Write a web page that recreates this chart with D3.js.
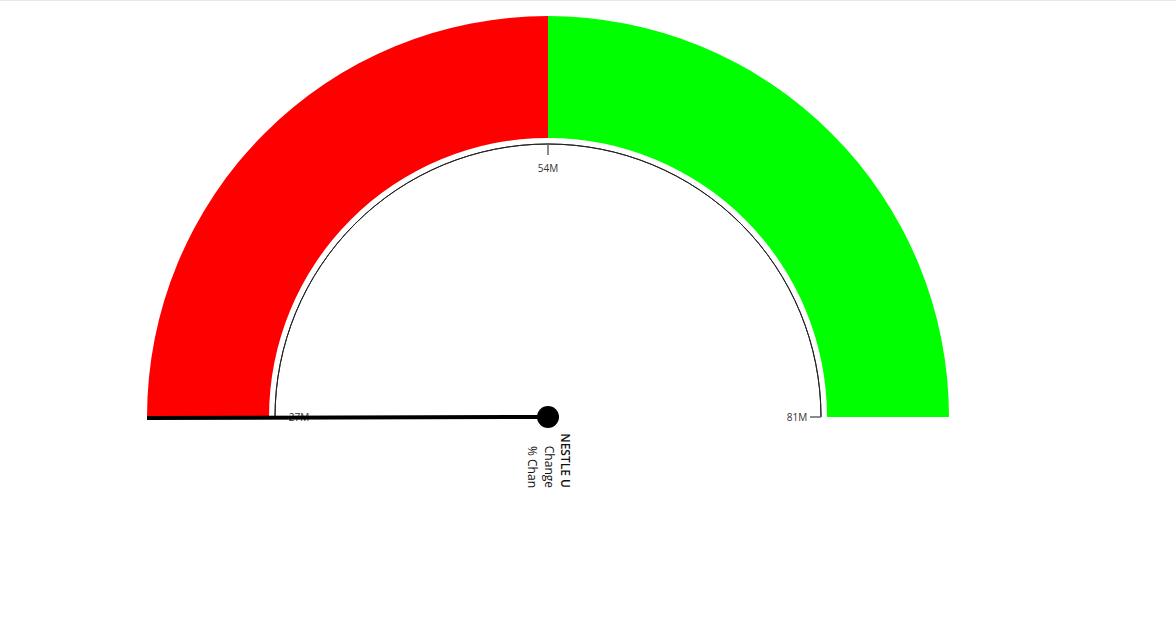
<!DOCTYPE html>
<html>
<head>
<meta charset="utf-8">
<script src="https://cdn.jsdelivr.net/npm/d3@7"></script>
<style>
  html, body { margin: 0; padding: 0; background: #fff; }
  body { border-top: 1px solid #e8e8e8; }
  svg { display: block; }
</style>
</head>
<body>
<script>
var width = 1176,
    height = 634;

var cx = 548, cy = 416; // gauge centre

var outerR = 401,
    innerR = 279,
    axisR = 273,
    labelR = 249;

// data
var bandStarts = [27, 54];
var bandEnds = [54, 81];
var bandColors = ["#ff0000", "#00ff00"];
var tickValues = [27, 54, 81];
var needleValue = 27;
var labelLines = ["NESTLE U", "Change", "% Chan"];

var angle = d3.scaleLinear()
    .domain([27, 81])
    .range([-Math.PI / 2, Math.PI / 2]);

var svg = d3.select("body").append("svg")
    .attr("width", width)
    .attr("height", height);

var g = svg.append("g")
    .attr("transform", "translate(" + cx + "," + cy + ")");

var arc = d3.arc()
    .innerRadius(innerR)
    .outerRadius(outerR);

// Bands
g.selectAll("path.band")
        .data(bandStarts)
    .enter().append("path")
        .attr("class", "band")
        .attr("d", function(d, i) {
            return arc({startAngle: angle(d), endAngle: angle(bandEnds[i])});
        })
        .attr("fill", function(d, i) { return bandColors[i]; });

// Axis arc
g.append("path")
    .attr("d", d3.arc()({innerRadius: axisR, outerRadius: axisR,
        startAngle: angle.range()[0], endAngle: angle.range()[1]}))
    .attr("fill", "none")
    .attr("stroke", "#222")
    .attr("stroke-width", 1);

// Ticks
g.selectAll("line.tick")
        .data(tickValues)
    .enter().append("line")
        .attr("class", "tick")
        .attr("x1", function(d) { return Math.sin(angle(d)) * axisR; })
        .attr("y1", function(d) { return -Math.cos(angle(d)) * axisR; })
        .attr("x2", function(d) { return Math.sin(angle(d)) * (axisR - 11); })
        .attr("y2", function(d) { return -Math.cos(angle(d)) * (axisR - 11); })
        .attr("stroke", "#666")
        .attr("stroke-width", 1.5);

g.selectAll("text.tickLabel")
        .data(tickValues)
    .enter().append("text")
        .attr("class", "tickLabel")
        .attr("x", function(d) { return Math.sin(angle(d)) * labelR; })
        .attr("y", function(d) { return -Math.cos(angle(d)) * labelR; })
        .attr("dy", "0.35em")
        .attr("text-anchor", "middle")
        .attr("font-family", "'Open Sans', sans-serif")
        .attr("font-size", 10)
        .attr("fill", "#333")
        .text(function(d) { return d + "M"; });

// Needle
var na = angle(needleValue);
g.append("line")
    .attr("x1", 0)
    .attr("y1", 0)
    .attr("x2", Math.sin(na) * outerR)
    .attr("y2", -Math.cos(na) * outerR + 1)
    .attr("stroke", "#000")
    .attr("stroke-width", 4);

g.append("circle")
    .attr("r", 11)
    .attr("fill", "#000");

// Rotated label under the pivot
var lbl = g.append("text")
    .attr("transform", "translate(" + 17 + "," + 0 + ") rotate(90)")
    .attr("font-family", "'Open Sans', sans-serif")
    .attr("font-size", 12)
    .attr("fill", "#111")
    .attr("text-anchor", "end");

lbl.selectAll("tspan")
        .data(labelLines)
    .enter().append("tspan")
        .attr("x", 71)
        .attr("y", function(d, i) { return 4 + i * 16.5; })
        .attr("font-weight", function(d, i) { return i === 0 ? 600 : 400; })
        .text(function(d) { return d; });
</script>
</body>
</html>
